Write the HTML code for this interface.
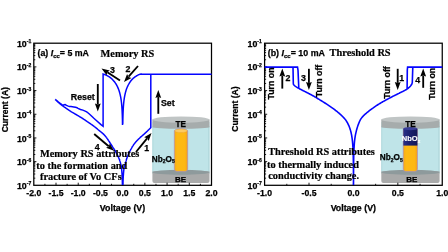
<!DOCTYPE html>
<html><head><meta charset="utf-8"><title>RS</title>
<style>
html,body{margin:0;padding:0;background:#fff;}
svg{display:block}
.t{font-family:"Liberation Sans",Arial,sans-serif;font-weight:bold;font-size:8.8px;fill:#000;stroke:#000;stroke-width:0.25px}
.s{font-family:"Liberation Serif","Times New Roman",serif;font-weight:bold;font-size:10.35px;fill:#000;stroke:#000;stroke-width:0.2px}
</style></head><body>
<svg width="448" height="252" viewBox="0 0 448 252">
<defs><linearGradient id="og" x1="0" x2="1" y1="0" y2="0"><stop offset="0" stop-color="#f6a61a"/><stop offset="0.2" stop-color="#fdba14"/><stop offset="0.8" stop-color="#fdb813"/><stop offset="1" stop-color="#f09c22"/></linearGradient>
<linearGradient id="ng" x1="0" x2="1" y1="0" y2="0"><stop offset="0" stop-color="#2a2f8a"/><stop offset="0.4" stop-color="#1c2170"/><stop offset="1" stop-color="#141856"/></linearGradient></defs>
<rect width="448" height="252" fill="#fff"/>
<!-- panel a inset -->
<rect x="152.4" y="122" width="57.099999999999994" height="52" fill="#bfe4e8"/>
<rect x="208.3" y="126" width="1.2" height="46" fill="#aed6da"/>
<rect x="152.4" y="126" width="1.0" height="46" fill="#b2d9dd"/>
<path d="M152.4,171.6 V181 Q152.4,182.9 154.4,182.9 H207.5 Q209.5,182.9 209.5,181 V171.6 Z" fill="#a9aaaa"/>
<ellipse cx="180.95" cy="172.3" rx="28.549999999999997" ry="2.5" fill="#8e9a9c"/>
<path d="M152.4,119.6 V127.2 A28.549999999999997,1.6 0 0 0 209.5,127.2 V119.6 Z" fill="#a6acac"/>
<ellipse cx="180.95" cy="119.6" rx="28.549999999999997" ry="3.2" fill="#c0c5c5"/>
<path d="M174.3,130.8 V169 Q174.3,171.4 176.7,171.4 H185.3 Q187.7,171.4 187.7,169 V130.8 A6.7,2 0 0 0 174.3,130.8 Z" fill="url(#og)" stroke="#9a86d8" stroke-width="0.55"/>
<ellipse cx="181" cy="130.8" rx="6.3" ry="1.7" fill="#fccb63" stroke="#e59a3a" stroke-width="0.35"/>
<text x="180.8" y="127.2" text-anchor="middle" class="t" style="font-size:8.2px">TE</text>
<text x="180.5" y="182.2" text-anchor="middle" class="t" style="font-size:8px">BE</text>
<text x="151.8" y="161.6" class="t" style="font-size:8.2px">Nb<tspan dy="1.8" style="font-size:5px">2</tspan><tspan dy="-1.8">O</tspan><tspan dy="1.8" style="font-size:5px">5</tspan></text>
<!-- panel b inset -->
<rect x="381.3" y="122" width="58.30000000000001" height="52" fill="#bfe4e8"/>
<rect x="438.40000000000003" y="126" width="1.2" height="46" fill="#aed6da"/>
<rect x="381.3" y="126" width="1.0" height="46" fill="#b2d9dd"/>
<path d="M381.3,171.6 V181 Q381.3,182.9 383.3,182.9 H437.6 Q439.6,182.9 439.6,181 V171.6 Z" fill="#a9aaaa"/>
<ellipse cx="410.45000000000005" cy="172.3" rx="29.150000000000006" ry="2.5" fill="#8e9a9c"/>
<path d="M381.3,119.6 V127.2 A29.150000000000006,1.6 0 0 0 439.6,127.2 V119.6 Z" fill="#a6acac"/>
<ellipse cx="410.45000000000005" cy="119.6" rx="29.150000000000006" ry="3.2" fill="#c0c5c5"/>
<path d="M403.2,129 V169 Q403.2,171.4 405.6,171.4 H415.1 Q417.5,171.4 417.5,169 V129 Z" fill="url(#og)" stroke="#9a86d8" stroke-width="0.55"/>
<path d="M403.3,128.6 V145.6 H417.4 V128.6 Z" fill="url(#ng)"/>
<ellipse cx="410.35" cy="128.6" rx="7" ry="1.7" fill="#3a3f9a"/>
<text x="410.4" y="127.2" text-anchor="middle" class="t" style="font-size:8.2px">TE</text>
<text x="411.7" y="182.3" text-anchor="middle" class="t" style="font-size:8px">BE</text>
<text x="379.8" y="160.3" class="t" style="font-size:8.2px">Nb<tspan dy="1.8" style="font-size:5px">2</tspan><tspan dy="-1.8">O</tspan><tspan dy="1.8" style="font-size:5px">5</tspan></text>
<text x="401.8" y="141.0" class="t" style="font-size:7.5px;fill:#fff;stroke:#fff;stroke-width:0.15px">NbO<tspan dy="1.6" style="font-size:4.6px">x</tspan></text>

<!-- frames -->
<rect x="33.8" y="43.2" width="177.7" height="142.10000000000002" fill="none" stroke="#000" stroke-width="1.25"/>
<rect x="264.6" y="43.2" width="177.64999999999998" height="142.10000000000002" fill="none" stroke="#000" stroke-width="1.25"/>
<path d="M33.8,59.75h1.5 M33.8,55.58h1.5 M33.8,52.62h1.5 M33.8,50.33h1.5 M33.8,48.45h1.5 M33.8,46.87h1.5 M33.8,45.50h1.5 M33.8,44.28h1.5 M33.8,66.88h2.6 M33.8,83.44h1.5 M33.8,79.27h1.5 M33.8,76.31h1.5 M33.8,74.01h1.5 M33.8,72.14h1.5 M33.8,70.55h1.5 M33.8,69.18h1.5 M33.8,67.97h1.5 M33.8,90.57h2.6 M33.8,107.12h1.5 M33.8,102.95h1.5 M33.8,99.99h1.5 M33.8,97.70h1.5 M33.8,95.82h1.5 M33.8,94.24h1.5 M33.8,92.86h1.5 M33.8,91.65h1.5 M33.8,114.25h2.6 M33.8,130.80h1.5 M33.8,126.63h1.5 M33.8,123.67h1.5 M33.8,121.38h1.5 M33.8,119.50h1.5 M33.8,117.92h1.5 M33.8,116.55h1.5 M33.8,115.33h1.5 M33.8,137.93h2.6 M33.8,154.49h1.5 M33.8,150.32h1.5 M33.8,147.36h1.5 M33.8,145.06h1.5 M33.8,143.19h1.5 M33.8,141.60h1.5 M33.8,140.23h1.5 M33.8,139.02h1.5 M33.8,161.62h2.6 M33.8,178.17h1.5 M33.8,174.00h1.5 M33.8,171.04h1.5 M33.8,168.75h1.5 M33.8,166.87h1.5 M33.8,165.29h1.5 M33.8,163.91h1.5 M33.8,162.70h1.5 M44.91,185.3v-1.5 M56.01,185.3v-2.6 M67.12,185.3v-1.5 M78.22,185.3v-2.6 M89.33,185.3v-1.5 M100.44,185.3v-2.6 M111.54,185.3v-1.5 M122.65,185.3v-2.6 M133.76,185.3v-1.5 M144.86,185.3v-2.6 M155.97,185.3v-1.5 M167.07,185.3v-2.6 M178.18,185.3v-1.5 M189.29,185.3v-2.6 M200.39,185.3v-1.5" stroke="#000" stroke-width="0.9" fill="none"/>
<path d="M264.6,59.75h1.5 M264.6,55.58h1.5 M264.6,52.62h1.5 M264.6,50.33h1.5 M264.6,48.45h1.5 M264.6,46.87h1.5 M264.6,45.50h1.5 M264.6,44.28h1.5 M264.6,66.88h2.6 M264.6,83.44h1.5 M264.6,79.27h1.5 M264.6,76.31h1.5 M264.6,74.01h1.5 M264.6,72.14h1.5 M264.6,70.55h1.5 M264.6,69.18h1.5 M264.6,67.97h1.5 M264.6,90.57h2.6 M264.6,107.12h1.5 M264.6,102.95h1.5 M264.6,99.99h1.5 M264.6,97.70h1.5 M264.6,95.82h1.5 M264.6,94.24h1.5 M264.6,92.86h1.5 M264.6,91.65h1.5 M264.6,114.25h2.6 M264.6,130.80h1.5 M264.6,126.63h1.5 M264.6,123.67h1.5 M264.6,121.38h1.5 M264.6,119.50h1.5 M264.6,117.92h1.5 M264.6,116.55h1.5 M264.6,115.33h1.5 M264.6,137.93h2.6 M264.6,154.49h1.5 M264.6,150.32h1.5 M264.6,147.36h1.5 M264.6,145.06h1.5 M264.6,143.19h1.5 M264.6,141.60h1.5 M264.6,140.23h1.5 M264.6,139.02h1.5 M264.6,161.62h2.6 M264.6,178.17h1.5 M264.6,174.00h1.5 M264.6,171.04h1.5 M264.6,168.75h1.5 M264.6,166.87h1.5 M264.6,165.29h1.5 M264.6,163.91h1.5 M264.6,162.70h1.5 M286.81,185.3v-1.5 M309.01,185.3v-2.6 M331.22,185.3v-1.5 M353.43,185.3v-2.6 M375.63,185.3v-1.5 M397.84,185.3v-2.6 M420.04,185.3v-1.5" stroke="#000" stroke-width="0.9" fill="none"/>
<text x="31.2" y="46.80" text-anchor="end" class="t">10<tspan dy="-3.6" font-size="5">-1</tspan></text>
<text x="31.2" y="70.48" text-anchor="end" class="t">10<tspan dy="-3.6" font-size="5">-2</tspan></text>
<text x="31.2" y="94.17" text-anchor="end" class="t">10<tspan dy="-3.6" font-size="5">-3</tspan></text>
<text x="31.2" y="117.85" text-anchor="end" class="t">10<tspan dy="-3.6" font-size="5">-4</tspan></text>
<text x="31.2" y="141.53" text-anchor="end" class="t">10<tspan dy="-3.6" font-size="5">-5</tspan></text>
<text x="31.2" y="165.22" text-anchor="end" class="t">10<tspan dy="-3.6" font-size="5">-6</tspan></text>
<text x="31.2" y="188.90" text-anchor="end" class="t">10<tspan dy="-3.6" font-size="5">-7</tspan></text>
<text x="261.8" y="46.80" text-anchor="end" class="t">10<tspan dy="-3.6" font-size="5">-1</tspan></text>
<text x="261.8" y="70.48" text-anchor="end" class="t">10<tspan dy="-3.6" font-size="5">-2</tspan></text>
<text x="261.8" y="94.17" text-anchor="end" class="t">10<tspan dy="-3.6" font-size="5">-3</tspan></text>
<text x="261.8" y="117.85" text-anchor="end" class="t">10<tspan dy="-3.6" font-size="5">-4</tspan></text>
<text x="261.8" y="141.53" text-anchor="end" class="t">10<tspan dy="-3.6" font-size="5">-5</tspan></text>
<text x="261.8" y="165.22" text-anchor="end" class="t">10<tspan dy="-3.6" font-size="5">-6</tspan></text>
<text x="261.8" y="188.90" text-anchor="end" class="t">10<tspan dy="-3.6" font-size="5">-7</tspan></text>
<text x="33.80" y="196.2" text-anchor="middle" class="t" style="font-size:8.7px">-2.0</text>
<text x="56.01" y="196.2" text-anchor="middle" class="t" style="font-size:8.7px">-1.5</text>
<text x="78.22" y="196.2" text-anchor="middle" class="t" style="font-size:8.7px">-1.0</text>
<text x="100.44" y="196.2" text-anchor="middle" class="t" style="font-size:8.7px">-0.5</text>
<text x="122.65" y="196.2" text-anchor="middle" class="t" style="font-size:8.7px">0.0</text>
<text x="144.86" y="196.2" text-anchor="middle" class="t" style="font-size:8.7px">0.5</text>
<text x="167.07" y="196.2" text-anchor="middle" class="t" style="font-size:8.7px">1.0</text>
<text x="189.29" y="196.2" text-anchor="middle" class="t" style="font-size:8.7px">1.5</text>
<text x="211.50" y="196.2" text-anchor="middle" class="t" style="font-size:8.7px">2.0</text>
<text x="264.60" y="196.2" text-anchor="middle" class="t" style="font-size:8.7px">-1.0</text>
<text x="309.01" y="196.2" text-anchor="middle" class="t" style="font-size:8.7px">-0.5</text>
<text x="353.43" y="196.2" text-anchor="middle" class="t" style="font-size:8.7px">0.0</text>
<text x="397.84" y="196.2" text-anchor="middle" class="t" style="font-size:8.7px">0.5</text>
<text x="442.25" y="196.2" text-anchor="middle" class="t" style="font-size:8.7px">1.0</text>
<text x="122.5" y="210.6" text-anchor="middle" class="t">Voltage (V)</text>
<text x="353.3" y="210.6" text-anchor="middle" class="t">Voltage (V)</text>
<text transform="translate(8.2,109.7) rotate(-90)" text-anchor="middle" class="t" style="font-size:8.6px">Current (A)</text>
<text transform="translate(237.6,109) rotate(-90)" text-anchor="middle" class="t" style="font-size:8.6px">Current (A)</text>

<!-- curves -->
<path d="M122.92,185.00 L122.94,184.38 L122.95,183.76 L122.97,183.14 L122.99,182.52 L123.01,181.90 L123.04,181.28 L123.06,180.66 L123.09,180.03 L123.11,179.41 L123.14,178.79 L123.17,178.17 L123.21,177.55 L123.24,176.93 L123.28,176.31 L123.32,175.69 L123.36,175.07 L123.40,174.45 L123.45,173.83 L123.50,173.21 L123.55,172.59 L123.61,171.97 L123.67,171.34 L123.73,170.72 L123.80,170.10 L123.87,169.48 L123.94,168.86 L124.02,168.24 L124.11,167.62 L124.20,167.00 L124.26,166.83 L124.32,166.64 L124.37,166.48 L124.38,166.44 L124.45,166.23 L124.51,166.00 L124.53,165.93 L124.58,165.76 L124.65,165.51 L124.70,165.35 L124.73,165.25 L124.81,164.98 L124.87,164.76 L124.89,164.70 L124.97,164.41 L125.04,164.18 L125.06,164.11 L125.15,163.80 L125.20,163.61 L125.24,163.48 L125.34,163.16 L125.37,163.05 L125.44,162.83 L125.54,162.51 L125.54,162.50 L125.65,162.16 L125.71,161.99 L125.76,161.81 L125.87,161.48 L125.88,161.46 L126.00,161.07 L126.04,160.94 L126.13,160.66 L126.21,160.39 L126.26,160.23 L126.37,159.83 L126.39,159.78 L126.53,159.32 L126.54,159.27 L126.67,158.84 L126.71,158.73 L126.83,158.35 L126.88,158.19 L126.98,157.86 L127.04,157.67 L127.14,157.37 L127.21,157.17 L127.31,156.88 L127.38,156.69 L127.49,156.40 L127.55,156.24 L127.67,155.93 L127.71,155.81 L127.85,155.46 L127.88,155.39 L128.05,154.99 L128.05,154.99 L128.22,154.60 L128.25,154.52 L128.38,154.22 L128.46,154.05 L128.55,153.85 L128.68,153.57 L128.72,153.48 L128.88,153.13 L128.90,153.09 L129.05,152.78 L129.14,152.61 L129.22,152.44 L129.38,152.12 L129.39,152.10 L129.55,151.77 L129.63,151.62 L129.72,151.45 L129.89,151.13 L129.89,151.12 L130.06,150.81 L130.16,150.61 L130.22,150.49 L130.39,150.18 L130.44,150.09 L130.56,149.88 L130.72,149.57 L130.73,149.56 L130.89,149.27 L131.04,149.01 L131.06,148.97 L131.23,148.66 L131.35,148.44 L131.39,148.36 L131.56,148.07 L131.67,147.87 L131.73,147.77 L131.90,147.48 L132.01,147.28 L132.06,147.19 L132.23,146.91 L132.36,146.69 L132.40,146.63 L132.56,146.36 L132.72,146.10 L132.73,146.09 L132.90,145.82 L133.07,145.56 L133.10,145.51 L133.23,145.30 L133.40,145.05 L133.49,144.92 L133.57,144.81 L133.74,144.57 L133.90,144.34 L133.90,144.33 L134.07,144.10 L134.24,143.88 L134.32,143.78 L134.41,143.66 L134.57,143.44 L134.74,143.23 L134.75,143.21 L134.91,143.02 L135.07,142.82 L135.21,142.66 L135.24,142.62 L135.41,142.42 L135.58,142.22 L135.67,142.11 L135.74,142.03 L135.91,141.84 L136.08,141.65 L136.16,141.56 L136.25,141.46 L136.41,141.28 L136.58,141.10 L136.67,141.00 L136.75,140.92 L136.91,140.74 L137.08,140.56 L137.19,140.44 L137.25,140.38 L137.42,140.21 L137.58,140.03 L137.73,139.88 L137.75,139.86 L137.92,139.69 L138.09,139.52 L138.25,139.35 L138.30,139.30 L138.42,139.18 L138.59,139.01 L138.75,138.84 L138.88,138.72 L138.92,138.68 L139.09,138.51 L139.26,138.35 L139.42,138.19 L139.49,138.13 L139.59,138.03 L139.76,137.88 L139.93,137.72 L140.09,137.57 L140.12,137.55 L140.26,137.42 L140.43,137.27 L140.59,137.12 L140.76,136.97 L140.77,136.96 L140.93,136.82 L141.10,136.68 L141.26,136.53 L141.43,136.39 L141.45,136.37 L141.60,136.24 L141.77,136.10 L141.93,135.96 L142.10,135.81 L142.15,135.77 L142.27,135.67 L142.44,135.52 L142.60,135.38 L142.77,135.24 L142.88,135.14 L142.94,135.09 L143.10,134.95 L143.27,134.80 L143.44,134.66 L143.61,134.51 L143.64,134.49 L143.77,134.37 L143.94,134.22 L144.11,134.08 L144.28,133.93 L144.42,133.80 L144.44,133.78 L144.61,133.63 L144.78,133.48 L144.94,133.33 L145.11,133.18 L145.24,133.07 L145.28,133.03 L145.45,132.87 L145.61,132.72 L145.78,132.56 L145.95,132.41 L146.08,132.28 L146.12,132.25 L146.28,132.09 L146.45,131.93 L146.62,131.76 L146.78,131.60 L146.95,131.44 L146.96,131.43 L147.12,131.27 L147.29,131.11 L147.45,130.94 L147.62,130.78 L147.79,130.61 L147.87,130.54 L147.96,130.45 L148.12,130.28 L148.29,130.11 L148.46,129.94 L148.63,129.78 L148.79,129.61 L148.81,129.59 L148.96,129.44 L149.13,129.27 L149.29,129.10 L149.46,128.94 L149.63,128.77 L149.79,128.61 L149.80,128.60 L149.96,128.43 L150.13,128.27 L150.30,128.10 L150.47,127.93 L150.63,127.77 L150.80,127.60 L150.80,74.30 L211.50,74.30 M211.50,74.30 L140.73,74.30 L140.73,74.01 L140.32,74.13 L139.92,74.27 L139.51,74.41 L139.10,74.57 L138.70,74.74 L138.29,74.92 L137.88,75.11 L137.48,75.32 L137.07,75.54 L136.66,75.77 L136.26,76.02 L135.85,76.28 L135.44,76.56 L135.04,76.85 L134.63,77.16 L134.22,77.48 L133.82,77.82 L133.41,78.18 L133.00,78.56 L132.60,78.96 L132.19,79.38 L131.78,79.82 L131.38,80.29 L130.97,80.79 L130.56,81.32 L130.16,81.87 L129.75,82.47 L129.34,83.10 L128.94,83.77 L128.53,84.49 L128.12,85.27 L127.72,86.11 L127.31,87.02 L126.90,88.01 L126.50,89.10 L126.09,90.31 L125.68,91.68 L125.28,93.23 L124.87,95.04 L124.87,95.04 L124.67,96.07 L124.48,97.09 L124.32,98.12 L124.16,99.14 L124.03,100.16 L123.90,101.17 L123.79,102.18 L123.68,103.20 L123.59,104.21 L123.50,105.21 L123.42,106.22 L123.35,107.22 L123.29,108.23 L123.23,109.23 L123.18,110.23 L123.13,111.23 L123.09,112.22 L123.05,113.22 L123.01,114.22 L122.98,115.21 L122.95,116.21 L122.92,117.20 L122.89,118.19 L122.87,119.19 L122.85,120.18 L122.83,121.17 L122.82,122.16 L122.80,123.15 L122.79,124.14 M122.51,124.95 L122.50,123.96 L122.48,122.97 L122.47,121.98 L122.45,120.98 L122.43,119.99 L122.41,119.00 L122.38,118.01 L122.35,117.02 L122.32,116.02 L122.29,115.03 L122.25,114.03 L122.21,113.04 L122.17,112.04 L122.12,111.04 L122.07,110.04 L122.01,109.04 L121.95,108.04 L121.88,107.04 L121.80,106.03 L121.71,105.03 L121.62,104.02 L121.51,103.01 L121.40,102.00 L121.27,100.98 L121.14,99.97 L120.98,98.95 L120.82,97.93 L120.63,96.90 L120.43,95.88 L120.43,95.88 L119.98,93.92 L119.54,92.25 L119.10,90.81 L118.65,89.53 L118.21,88.39 L117.76,87.35 L117.32,86.40 L116.87,85.53 L116.43,84.73 L115.99,83.99 L115.54,83.29 L115.10,82.64 L114.65,82.03 L114.21,81.46 L113.77,80.92 L113.32,80.41 L112.88,79.93 L112.43,79.48 L111.99,79.05 L111.54,78.64 L111.10,78.25 L110.66,77.88 L110.21,77.54 L109.77,77.21 L109.32,76.89 L108.88,76.60 L108.43,76.32 L107.99,76.05 L107.55,75.80 L107.10,75.56 L106.66,75.34 L106.21,75.13 L105.77,74.93 L105.32,74.75 L104.88,74.58 L104.44,74.42 L103.99,74.27 L103.55,74.14 L103.10,74.01 L103.10,74.30 L103.10,126.30 L101.00,124.60 L95.50,119.70 L93.60,118.00 L90.70,115.20 L88.50,113.20 L86.70,111.80 L84.60,110.90 L82.80,110.10 L80.50,109.50 L78.00,108.40 L77.00,107.70 L75.50,107.30 L73.80,106.90 L71.00,106.60 L69.50,106.50 L68.30,106.10 L66.50,105.40 L65.10,104.50 L64.20,104.70 L63.30,105.10 L61.90,104.60 L60.20,103.40 L58.50,102.10 L56.80,100.70 L55.20,99.40 M122.43,185.00 L122.42,184.38 L122.40,183.76 L122.39,183.14 L122.37,182.52 L122.36,181.90 L122.34,181.28 L122.32,180.66 L122.30,180.03 L122.28,179.41 L122.25,178.79 L122.23,178.17 L122.20,177.55 L122.17,176.93 L122.14,176.31 L122.11,175.69 L122.08,175.07 L122.04,174.45 L122.01,173.83 L121.97,173.21 L121.92,172.59 L121.88,171.97 L121.83,171.34 L121.78,170.72 L121.73,170.10 L121.67,169.48 L121.61,168.86 L121.54,168.24 L121.47,167.62 L121.40,167.00 L121.37,166.81 L121.33,166.62 L121.30,166.43 L121.26,166.23 L121.22,166.04 L121.18,165.84 L121.18,165.82 L121.14,165.64 L121.10,165.44 L121.06,165.24 L121.02,165.04 L120.97,164.84 L120.96,164.77 L120.93,164.64 L120.88,164.43 L120.83,164.23 L120.78,164.02 L120.74,163.83 L120.73,163.81 L120.68,163.60 L120.63,163.39 L120.57,163.18 L120.51,162.97 L120.51,162.97 L120.46,162.76 L120.40,162.54 L120.34,162.33 L120.29,162.18 L120.27,162.11 L120.21,161.89 L120.14,161.68 L120.08,161.46 L120.07,161.45 L120.01,161.24 L119.93,161.02 L119.86,160.80 L119.85,160.77 L119.78,160.57 L119.71,160.35 L119.63,160.13 L119.63,160.12 L119.54,159.90 L119.46,159.67 L119.41,159.53 L119.37,159.44 L119.28,159.20 L119.19,158.97 L119.19,158.95 L119.10,158.73 L119.00,158.49 L118.96,158.40 L118.90,158.25 L118.80,158.01 L118.74,157.87 L118.70,157.76 L118.59,157.51 L118.52,157.35 L118.48,157.26 L118.37,157.00 L118.30,156.85 L118.25,156.74 L118.13,156.49 L118.08,156.37 L118.01,156.22 L117.88,155.96 L117.86,155.91 L117.75,155.69 L117.64,155.45 L117.62,155.42 L117.49,155.15 L117.41,155.01 L117.35,154.87 L117.20,154.59 L117.19,154.58 L117.05,154.31 L116.97,154.16 L116.90,154.02 L116.75,153.74 L116.75,153.73 L116.59,153.43 L116.53,153.33 L116.42,153.13 L116.31,152.93 L116.25,152.83 L116.09,152.53 L116.08,152.52 L115.90,152.20 L115.86,152.14 L115.72,151.88 L115.64,151.75 L115.53,151.56 L115.42,151.37 L115.34,151.23 L115.20,151.00 L115.14,150.89 L114.98,150.63 L114.93,150.56 L114.76,150.27 L114.72,150.21 L114.54,149.91 L114.51,149.86 L114.32,149.55 L114.29,149.51 L114.09,149.19 L114.06,149.14 L113.87,148.84 L113.83,148.78 L113.65,148.49 L113.59,148.40 L113.43,148.15 L113.34,148.02 L113.21,147.80 L113.09,147.62 L112.99,147.46 L112.83,147.22 L112.77,147.12 L112.57,146.81 L112.54,146.78 L112.32,146.44 L112.29,146.40 L112.10,146.11 L112.01,145.97 L111.88,145.77 L111.72,145.53 L111.66,145.43 L111.44,145.08 L111.43,145.07 L111.22,144.73 L111.12,144.59 L110.99,144.38 L110.81,144.09 L110.77,144.03 L110.55,143.67 L110.49,143.57 L110.33,143.32 L110.16,143.05 L110.11,142.97 L109.89,142.62 L109.82,142.51 L109.67,142.27 L109.47,141.96 L109.44,141.92 L109.22,141.58 L109.11,141.41 L109.00,141.24 L108.78,140.91 L108.75,140.86 L108.56,140.59 L108.37,140.31 L108.34,140.26 L108.12,139.93 L107.98,139.73 L107.89,139.60 L107.67,139.27 L107.58,139.14 L107.45,138.94 L107.23,138.61 L107.18,138.53 L107.01,138.29 L106.79,137.98 L106.76,137.93 L106.57,137.67 L106.34,137.37 L106.32,137.34 L106.12,137.08 L105.90,136.80 L105.88,136.78 L105.68,136.53 L105.46,136.27 L105.43,136.23 L105.24,136.01 L105.02,135.76 L104.96,135.69 L104.79,135.51 L104.57,135.27 L104.48,135.17 L104.35,135.03 L104.13,134.80 L103.99,134.65 L103.91,134.57 L103.69,134.35 L103.48,134.14 L103.47,134.13 L103.24,133.91 L103.02,133.70 L102.96,133.64 L102.80,133.49 L102.58,133.29 L102.43,133.15 L102.36,133.09 L102.14,132.90 L101.92,132.72 L101.88,132.69 L101.69,132.54 L101.47,132.36 L101.31,132.23 L101.25,132.19 L101.03,132.01 L100.81,131.84 L100.73,131.78 L100.59,131.67 L100.37,131.49 L100.15,131.32 L100.14,131.32 L99.92,131.14 L99.70,130.97 L99.53,130.82 L99.48,130.78 L99.26,130.60 L99.04,130.42 L98.90,130.30 L98.82,130.23 L98.60,130.04 L98.37,129.86 L98.26,129.76 L98.15,129.67 L97.93,129.48 L97.71,129.29 L97.60,129.19 L97.49,129.10 L97.27,128.91 L97.05,128.73 L96.92,128.62 L96.82,128.54 L96.60,128.35 L96.38,128.17 L96.22,128.04 L96.16,127.99 L95.94,127.81 L95.72,127.63 L95.50,127.45 L95.50,127.45 L95.27,127.27 L95.05,127.10 L94.83,126.92 L94.77,126.87 L94.61,126.75 L94.39,126.59 L94.17,126.42 L94.01,126.30 L93.95,126.25 L93.72,126.09 L93.50,125.93 L93.28,125.76 L93.23,125.73 L93.06,125.60 L92.84,125.44 L92.62,125.28 L92.43,125.15 L92.40,125.13 L92.17,124.97 L91.95,124.81 L91.73,124.66 L91.61,124.58 L91.51,124.50 L91.29,124.35 L91.07,124.20 L90.85,124.04 L90.77,123.99 L90.62,123.89 L90.40,123.74 L90.18,123.59 L89.96,123.43 L89.91,123.40 L89.74,123.28 L89.52,123.13 L89.30,122.98 L89.07,122.83 L89.02,122.79 L88.85,122.68 L88.63,122.53 L88.41,122.38 L88.19,122.22 L88.11,122.17 L87.97,122.07 L87.75,121.92 L87.53,121.77 L87.30,121.62 L87.17,121.53 L87.08,121.47 L86.86,121.31 L86.64,121.16 L86.42,121.01 L86.21,120.87 L86.20,120.86 L85.98,120.71 L85.75,120.56 L85.53,120.41 L85.31,120.26 L85.22,120.19 L85.09,120.11 L84.87,119.96 L84.65,119.81 L84.43,119.66 L84.20,119.52 L84.20,119.51 L83.98,119.37 L83.76,119.22 L83.54,119.08 L83.32,118.93 L83.16,118.83 L83.10,118.79 L82.88,118.65 L82.65,118.51 L82.43,118.37 L82.21,118.23 L82.09,118.15 L81.99,118.09 L81.77,117.95 L81.55,117.81 L81.33,117.67 L81.10,117.54 L80.99,117.47 L80.88,117.40 L80.66,117.27 L80.44,117.13 L80.22,117.00 L80.00,116.86 L79.86,116.78 L79.78,116.73 L79.55,116.60 L79.33,116.46 L79.11,116.33 L78.89,116.20 L78.70,116.08 L78.67,116.07 L78.45,115.93 L78.23,115.80 L78.00,115.67 L77.78,115.54 L77.56,115.41 L77.50,115.37 L77.34,115.28 L77.12,115.14 L76.90,115.01 L76.68,114.88 L76.45,114.75 L76.28,114.65 L76.23,114.62 L76.01,114.49 L75.79,114.36 L75.57,114.23 L75.35,114.10 L75.13,113.97 L75.02,113.91 L74.91,113.84 L74.68,113.72 L74.46,113.59 L74.24,113.46 L74.02,113.33 L73.80,113.21 L73.73,113.17 L73.58,113.08 L73.36,112.95 L73.13,112.82 L72.91,112.69 L72.69,112.56 L72.47,112.43 L72.40,112.40 L72.25,112.30 L72.03,112.17 L71.81,112.04 L71.58,111.91 L71.36,111.77 L71.14,111.64 L71.04,111.57 L70.92,111.50 L70.70,111.36 L70.48,111.22 L70.26,111.08 L70.03,110.94 L69.81,110.79 L69.64,110.68 L69.59,110.65 L69.37,110.50 L69.15,110.35 L68.93,110.20 L68.71,110.05 L68.48,109.90 L68.26,109.74 L68.20,109.70 L68.04,109.59 L67.82,109.43 L67.60,109.28 L67.38,109.13 L67.16,108.97 L66.93,108.82 L66.72,108.67 L66.71,108.66 L66.49,108.51 L66.27,108.36 L66.05,108.20 L65.83,108.05 L65.61,107.90 L65.38,107.75 L65.21,107.63 L65.16,107.60 L64.94,107.45 L64.72,107.30 L64.50,107.15 L64.28,106.99 L64.06,106.84 L63.83,106.69 L63.65,106.56 L63.61,106.54 L63.39,106.38 L63.17,106.23 L62.95,106.07 L62.73,105.91 L62.51,105.75 L62.28,105.59 L62.06,105.42 L62.05,105.41 L61.84,105.26 L61.62,105.09 L61.40,104.92 L61.18,104.74 L60.96,104.57 L60.74,104.39 L60.51,104.21 L60.40,104.12 L60.29,104.03 L60.07,103.84 L59.85,103.66 L59.63,103.47 L59.41,103.28 L59.19,103.09 L58.96,102.90 L58.74,102.71 L58.72,102.69 L58.52,102.52 L58.30,102.32 L58.08,102.13 L57.86,101.93 L57.64,101.73 L57.41,101.52 L57.19,101.32 L56.98,101.12 L56.97,101.11 L56.75,100.90 L56.53,100.69 L56.31,100.48 L56.09,100.27 L55.86,100.05 L55.64,99.84 L55.42,99.62 L55.20,99.40" fill="none" stroke="#0505ff" stroke-width="1.5" stroke-linejoin="miter"/>
<path d="M353.49,184.99 L353.48,183.17 L353.48,181.36 L353.47,179.54 L353.47,177.72 L353.46,175.91 L353.46,174.09 L353.45,172.27 L353.44,170.45 L353.43,168.64 L353.41,166.82 L353.40,165.00 L353.38,163.19 L353.35,161.37 L353.32,159.55 L353.29,157.74 L353.25,155.92 L353.20,154.10 L353.14,152.29 L353.07,150.47 L352.99,148.65 L352.89,146.84 L352.77,145.02 L352.63,143.20 L352.47,141.38 L352.27,139.57 L352.03,137.75 L351.74,135.93 L351.40,134.12 L351.00,132.30 L350.64,130.89 L350.28,129.63 L349.91,128.50 L349.55,127.47 L349.19,126.53 L348.83,125.66 L348.46,124.85 L348.10,124.10 L347.74,123.39 L347.38,122.72 L347.02,122.08 L346.65,121.47 L346.29,120.90 L345.93,120.36 L345.57,119.85 L345.20,119.37 L344.84,118.92 L344.48,118.49 L344.12,118.09 L343.75,117.69 L343.39,117.31 L343.03,116.94 L342.67,116.58 L342.31,116.23 L341.94,115.88 L341.58,115.53 L341.22,115.19 L340.86,114.85 L340.49,114.52 L340.13,114.19 L339.77,113.86 L339.41,113.54 L339.05,113.23 L338.68,112.92 L338.32,112.61 L337.96,112.31 L337.60,112.01 L337.23,111.71 L336.87,111.42 L336.51,111.13 L336.15,110.85 L335.78,110.56 L335.42,110.28 L335.06,110.00 L334.70,109.73 L334.34,109.46 L333.97,109.19 L333.61,108.92 L333.25,108.65 L332.89,108.39 L332.52,108.13 L332.16,107.87 L331.80,107.61 L331.44,107.35 L331.08,107.10 L330.71,106.85 L330.35,106.60 L329.99,106.35 L329.63,106.10 L329.26,105.85 L328.90,105.61 L328.54,105.36 L328.18,105.12 L327.82,104.88 L327.45,104.64 L327.09,104.40 L326.73,104.16 L326.37,103.93 L326.00,103.69 L325.64,103.46 L325.28,103.23 L324.92,103.00 L324.55,102.77 L324.19,102.54 L323.83,102.31 L323.47,102.09 L323.11,101.86 L322.74,101.64 L322.38,101.42 L322.02,101.19 L321.66,100.97 L321.29,100.75 L320.93,100.53 L320.57,100.31 L320.21,100.08 L319.85,99.86 L319.48,99.63 L319.12,99.41 L318.76,99.18 L318.40,98.96 L318.03,98.74 L317.67,98.51 L317.31,98.29 L316.95,98.07 L316.58,97.85 L316.22,97.63 L315.86,97.41 L315.50,97.19 L315.14,96.98 L314.77,96.77 L314.41,96.55 L314.05,96.35 L313.69,96.14 L313.32,95.93 L312.96,95.73 L312.60,95.53 L312.24,95.33 L311.88,95.13 L311.51,94.94 L311.15,94.75 L310.79,94.56 L310.43,94.37 L310.06,94.18 L309.70,93.99 L309.34,93.81 L308.98,93.62 L308.62,93.44 L308.25,93.25 L307.89,93.07 L307.53,92.89 L307.17,92.70 L306.80,92.52 L306.44,92.34 L306.08,92.15 L305.72,91.97 L305.35,91.78 L304.99,91.60 L304.63,91.41 L304.27,91.23 L303.91,91.04 L303.54,90.86 L303.18,90.68 L302.82,90.50 L302.46,90.31 L302.09,90.13 L301.73,89.94 L301.37,89.76 L301.01,89.57 L300.65,89.38 L300.28,89.18 L299.92,88.99 L299.56,88.79 L299.20,88.58 L298.83,88.38 L298.47,88.17 L298.11,87.96 L297.75,87.75 L297.38,87.54 L297.02,87.32 L296.66,87.10 L296.30,86.86 L295.94,86.62 L295.57,86.36 L295.21,86.09 L294.85,85.81 L294.49,85.50 L294.12,85.14 L293.76,84.73 L293.40,84.30 L293.30,83.20 L293.00,67.10 L264.60,67.10 M264.60,67.10 L297.50,67.10 L298.00,70.00 L298.80,88.30 M353.51,184.99 L353.52,183.17 L353.52,181.36 L353.53,179.54 L353.53,177.72 L353.54,175.91 L353.54,174.09 L353.55,172.27 L353.56,170.45 L353.57,168.64 L353.59,166.82 L353.60,165.00 L353.62,163.19 L353.65,161.37 L353.68,159.55 L353.71,157.74 L353.75,155.92 L353.80,154.10 L353.86,152.29 L353.93,150.47 L354.01,148.65 L354.11,146.84 L354.23,145.02 L354.37,143.20 L354.53,141.38 L354.73,139.57 L354.97,137.75 L355.26,135.93 L355.60,134.12 L356.00,132.30 L356.35,130.84 L356.70,129.50 L357.05,128.27 L357.41,127.13 L357.76,126.07 L358.11,125.07 L358.46,124.14 L358.81,123.23 L359.16,122.34 L359.52,121.51 L359.87,120.74 L360.22,120.05 L360.57,119.43 L360.92,118.87 L361.27,118.36 L361.63,117.88 L361.98,117.43 L362.33,117.01 L362.68,116.61 L363.03,116.23 L363.38,115.86 L363.73,115.51 L364.09,115.17 L364.44,114.84 L364.79,114.52 L365.14,114.20 L365.49,113.89 L365.84,113.59 L366.20,113.29 L366.55,113.00 L366.90,112.71 L367.25,112.42 L367.60,112.13 L367.95,111.84 L368.31,111.56 L368.66,111.28 L369.01,110.99 L369.36,110.71 L369.71,110.44 L370.06,110.16 L370.41,109.89 L370.77,109.62 L371.12,109.36 L371.47,109.09 L371.82,108.83 L372.17,108.57 L372.52,108.32 L372.88,108.07 L373.23,107.81 L373.58,107.57 L373.93,107.32 L374.28,107.08 L374.63,106.84 L374.98,106.60 L375.34,106.36 L375.69,106.12 L376.04,105.89 L376.39,105.66 L376.74,105.43 L377.09,105.21 L377.45,104.98 L377.80,104.76 L378.15,104.54 L378.50,104.32 L378.85,104.10 L379.20,103.88 L379.56,103.67 L379.91,103.46 L380.26,103.25 L380.61,103.04 L380.96,102.83 L381.31,102.62 L381.66,102.42 L382.02,102.22 L382.37,102.02 L382.72,101.81 L383.07,101.61 L383.42,101.41 L383.77,101.21 L384.13,101.02 L384.48,100.82 L384.83,100.62 L385.18,100.43 L385.53,100.23 L385.88,100.04 L386.24,99.85 L386.59,99.65 L386.94,99.46 L387.29,99.27 L387.64,99.08 L387.99,98.89 L388.34,98.70 L388.70,98.52 L389.05,98.33 L389.40,98.14 L389.75,97.96 L390.10,97.78 L390.45,97.59 L390.81,97.41 L391.16,97.23 L391.51,97.05 L391.86,96.87 L392.21,96.69 L392.56,96.51 L392.92,96.33 L393.27,96.15 L393.62,95.98 L393.97,95.80 L394.32,95.63 L394.67,95.45 L395.02,95.28 L395.38,95.10 L395.73,94.93 L396.08,94.76 L396.43,94.59 L396.78,94.42 L397.13,94.25 L397.49,94.07 L397.84,93.90 L398.19,93.72 L398.54,93.55 L398.89,93.37 L399.24,93.20 L399.59,93.02 L399.95,92.84 L400.30,92.66 L400.65,92.48 L401.00,92.30 L401.35,92.12 L401.70,91.94 L402.06,91.77 L402.41,91.60 L402.76,91.43 L403.11,91.25 L403.46,91.08 L403.81,90.90 L404.17,90.72 L404.52,90.54 L404.87,90.35 L405.22,90.16 L405.57,89.96 L405.92,89.75 L406.27,89.54 L406.63,89.31 L406.98,89.08 L407.33,88.84 L407.68,88.58 L408.03,88.31 L408.38,88.03 L408.74,87.73 L409.09,87.41 L409.44,87.08 L409.79,86.72 L410.14,86.35 L410.49,85.96 L410.85,85.54 L411.20,85.06 L411.55,84.49 L411.90,83.90 L412.30,82.50 L412.80,67.10 L442.25,67.10 M442.25,67.10 L407.60,67.10 L407.30,70.00 L407.10,89.00" fill="none" stroke="#0505ff" stroke-width="1.6" stroke-linejoin="miter"/>

<!-- panel a text -->
<text x="37.5" y="55.8" class="t">(a) <tspan font-style="italic">I</tspan><tspan dy="2.6" style="font-size:6px">cc</tspan><tspan dy="-2.6">= 5 mA</tspan></text>
<text x="100.6" y="57.0" class="s">Memory RS</text>
<text x="70.8" y="100" class="t">Reset</text>
<text x="161" y="105.8" class="t">Set</text>
<text x="110" y="72.7" class="t">3</text>
<text x="125.6" y="72.4" class="t">2</text>
<text x="94.8" y="149.6" class="t">4</text>
<text x="144.2" y="151" class="t">1</text>
<path d="M97.80,84.00L97.80,104.40" stroke="#000" stroke-width="1.85" fill="none"/><path d="M97.80,111.40L94.90,103.40L97.80,104.60L100.70,103.40Z" fill="#000"/>
<path d="M158.30,113.80L158.30,97.00" stroke="#000" stroke-width="1.85" fill="none"/><path d="M158.30,90.00L161.20,98.00L158.30,96.80L155.40,98.00Z" fill="#000"/>
<path d="M120.00,80.50L107.37,72.31" stroke="#000" stroke-width="1.85" fill="none"/><path d="M101.50,68.50L109.79,70.42L107.20,72.20L106.63,75.29Z" fill="#000"/>
<path d="M138.00,66.00L128.61,76.73" stroke="#000" stroke-width="1.85" fill="none"/><path d="M124.00,82.00L127.09,74.07L128.48,76.88L131.45,77.89Z" fill="#000"/>
<path d="M94.20,134.00L108.66,146.27" stroke="#000" stroke-width="1.85" fill="none"/><path d="M114.00,150.80L106.02,147.84L108.81,146.40L109.78,143.41Z" fill="#000"/>
<path d="M136.00,152.00L147.08,138.42" stroke="#000" stroke-width="1.85" fill="none"/><path d="M151.50,133.00L148.69,141.03L147.20,138.27L144.20,137.37Z" fill="#000"/>
<text x="39.9" y="156.6" class="s">Memory RS attributes</text>
<text x="36.3" y="169.0" class="s">to the formation and</text>
<text x="40.0" y="180.2" class="s">fracture of Vo CFs</text>

<!-- panel b text -->
<text x="267.7" y="55.8" class="t" style="font-size:8.9px">(b) <tspan font-style="italic">I</tspan><tspan dy="2.6" style="font-size:6px">cc</tspan><tspan dy="-2.6">= 10 mA</tspan></text>
<text x="329.6" y="56.4" class="s">Threshold RS</text>
<text transform="translate(273.9,83.5) rotate(-90)" text-anchor="middle" class="t">Turn on</text>
<text transform="translate(322.3,81) rotate(-90)" text-anchor="middle" class="t">Turn off</text>
<text transform="translate(389.5,82.5) rotate(-90)" text-anchor="middle" class="t">Turn off</text>
<text transform="translate(435.2,83.8) rotate(-90)" text-anchor="middle" class="t">Turn on</text>
<text x="285.6" y="80.6" class="t">2</text>
<text x="301.1" y="80.6" class="t">3</text>
<text x="399.3" y="80.5" class="t">1</text>
<text x="415.2" y="83" class="t">4</text>
<path d="M282.30,88.60L282.30,75.60" stroke="#000" stroke-width="1.85" fill="none"/><path d="M282.30,68.60L285.20,76.60L282.30,75.40L279.40,76.60Z" fill="#000"/>
<path d="M308.90,68.80L308.90,82.90" stroke="#000" stroke-width="1.85" fill="none"/><path d="M308.90,89.90L306.00,81.90L308.90,83.10L311.80,81.90Z" fill="#000"/>
<path d="M397.70,68.80L397.70,82.90" stroke="#000" stroke-width="1.85" fill="none"/><path d="M397.70,89.90L394.80,81.90L397.70,83.10L400.60,81.90Z" fill="#000"/>
<path d="M423.20,87.80L423.20,75.60" stroke="#000" stroke-width="1.85" fill="none"/><path d="M423.20,68.60L426.10,76.60L423.20,75.40L420.30,76.60Z" fill="#000"/>
<text x="268.2" y="155.1" class="s">Threshold RS attributes</text>
<text x="267.0" y="167.7" class="s">to thermally induced</text>
<text x="268.2" y="179.3" class="s">conductivity change.</text>
</svg>
</body></html>
